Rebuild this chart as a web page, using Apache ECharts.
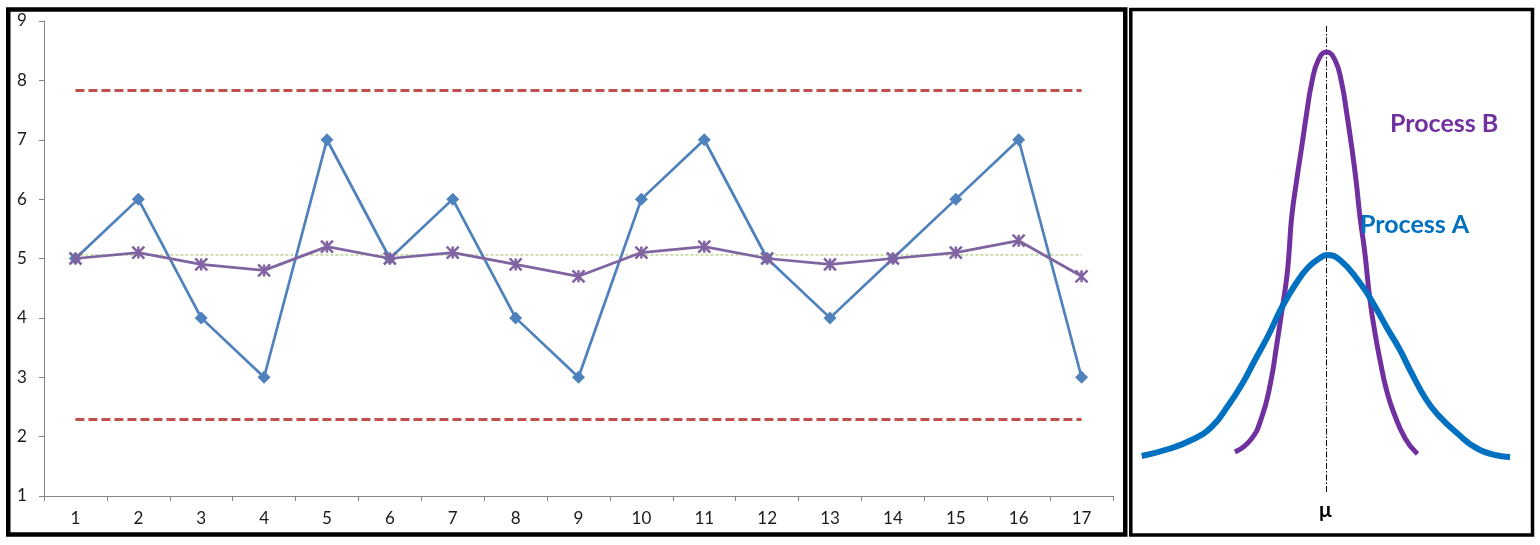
<!DOCTYPE html>
<html>
<head>
<meta charset="utf-8">
<script src="https://cdn.jsdelivr.net/npm/echarts@6/dist/echarts.min.js"></script>
<style>
html,body{margin:0;padding:0;background:#fff;}
#chart{width:1540px;height:545px;}
</style>
</head>
<body>
<div id="chart"></div>
<script>
// ---- Left panel: control chart data ----
const categories = ['1','2','3','4','5','6','7','8','9','10','11','12','13','14','15','16','17'];
const processA = [5, 6, 4, 3, 7, 5, 6, 4, 3, 6, 7, 5, 4, 5, 6, 7, 3];
const processB = [5, 5.1, 4.9, 4.8, 5.2, 5, 5.1, 4.9, 4.7, 5.1, 5.2, 5, 4.9, 5, 5.1, 5.3, 4.7];
const upperLimit = [7.83, 7.83, 7.83, 7.83, 7.83, 7.83, 7.83, 7.83, 7.83, 7.83, 7.83, 7.83, 7.83, 7.83, 7.83, 7.83, 7.83];
const lowerLimit = [2.29, 2.29, 2.29, 2.29, 2.29, 2.29, 2.29, 2.29, 2.29, 2.29, 2.29, 2.29, 2.29, 2.29, 2.29, 2.29, 2.29];
const centreLine = [5.06, 5.06, 5.06, 5.06, 5.06, 5.06, 5.06, 5.06, 5.06, 5.06, 5.06, 5.06, 5.06, 5.06, 5.06, 5.06, 5.06];
const yMin = 1, yMax = 9, yStep = 1;

// ---- Right panel: distribution curves (offset from mu, relative height) ----
const curveA = [[-184.8,44],[-158,51],[-135,60],[-115,73],[-98,95],[-85,115],[-71.5,140],[-58,165],[-45,192],[-31.5,215],[-18,233],[-5,243],[0,245],
                [13.5,240],[33.5,217],[46.5,197],[60,173],[73.5,150],[83.5,130],[100,100],[113.5,83],[127,70],[153.5,50],[183.5,43]];
const curveB = [[-91.5,48],[-76,60],[-65,82],[-56,117],[-49.8,155],[-44.8,188],[-39.8,222],[-37.5,247],[-34.8,283],[-29.8,320],[-24.8,353],[-19.8,387],[-14.8,417],[-8.2,440],[0,448],
                [8.5,440],[15.2,417],[20.2,387],[25.2,353],[29.5,320],[33.5,283],[38,250],[43.5,200],[48.5,167],[53.5,140],[60,110],[67,88],[79,61],[91,46]];
const muLine = [[0,8],[0,475]];
const labelA = 'Process A';
const labelB = 'Process B';
const labelMu = 'μ';

const FONT = 'Lato, "Open Sans", sans-serif';
const chart = echarts.init(document.getElementById('chart'), null, {renderer:'canvas'});

const option = {
  animation: false,
  backgroundColor: '#ffffff',
  grid: [
    {left: 44, right: 427, top: 21, bottom: 49, containLabel: false, outerBoundsMode: 'none'},
    {left: 1132, width: 400, top: 20, height: 480, outerBoundsMode: 'none'}
  ],
  xAxis: [
    {
      type: 'category', gridIndex: 0, data: categories, boundaryGap: true,
      axisLine: {show: true, lineStyle: {color: '#868686', width: 1}},
      axisTick: {show: true, length: 5, lineStyle: {color: '#868686'}},
      axisLabel: {color: '#1a1a1a', fontSize: 17, fontFamily: FONT, margin: 14},
      splitLine: {show: false}
    },
    {type: 'value', gridIndex: 1, min: -194.5, max: 205.5, show: false}
  ],
  yAxis: [
    {
      type: 'value', gridIndex: 0, min: yMin, max: yMax, interval: yStep,
      axisLine: {show: true, lineStyle: {color: '#868686', width: 1}},
      axisTick: {show: true, length: 5, lineStyle: {color: '#868686'}},
      axisLabel: {color: '#1a1a1a', fontSize: 17, fontFamily: FONT, margin: 27, align: 'left'},
      splitLine: {show: false}
    },
    {type: 'value', gridIndex: 1, min: 0, max: 480, show: false}
  ],
  series: [
    {
      name: 'Centre', type: 'line', xAxisIndex: 0, yAxisIndex: 0, data: centreLine,
      symbol: 'none', lineStyle: {color: '#9BBB59', width: 1, type: [3, 2]}, z: 1
    },
    {
      name: 'UCL', type: 'line', xAxisIndex: 0, yAxisIndex: 0, data: upperLimit,
      symbol: 'none', lineStyle: {color: '#C0504D', width: 3, type: [9, 4]}, z: 2
    },
    {
      name: 'LCL', type: 'line', xAxisIndex: 0, yAxisIndex: 0, data: lowerLimit,
      symbol: 'none', lineStyle: {color: '#C0504D', width: 3, type: [9, 4]}, z: 2
    },
    {
      name: labelA, type: 'line', xAxisIndex: 0, yAxisIndex: 0, data: processA,
      symbol: 'diamond', symbolSize: 13,
      lineStyle: {color: '#4F81BD', width: 2.75},
      itemStyle: {color: '#4F81BD'}, z: 3
    },
    {
      name: labelB, type: 'line', xAxisIndex: 0, yAxisIndex: 0, data: processB,
      symbol: 'path://M0,0L10,10M10,0L0,10M5,0L5,10', symbolSize: 12,
      lineStyle: {color: '#8064A2', width: 2.75},
      itemStyle: {color: '#8064A2', borderColor: '#8064A2', borderWidth: 2.5}, z: 4
    },
    {
      name: 'mu', type: 'line', xAxisIndex: 1, yAxisIndex: 1, data: muLine,
      symbol: 'none', lineStyle: {color: '#000', width: 1, type: [6, 2, 1.5, 2]}, z: 1
    },
    {
      name: labelA + ' curve', type: 'line', xAxisIndex: 1, yAxisIndex: 1, data: curveA,
      symbol: 'none', smooth: 0.5, lineStyle: {color: '#0070C0', width: 6}, z: 3
    },
    {
      name: labelB + ' curve', type: 'line', xAxisIndex: 1, yAxisIndex: 1, data: curveB,
      symbol: 'none', smooth: 0.5, lineStyle: {color: '#7030A0', width: 5}, z: 2
    }
  ],
  graphic: [
    {type: 'rect', shape: {x: 8.25, y: 9.5, width: 1117, height: 525}, style: {fill: 'none', stroke: '#000', lineWidth: 4.5}, z: 100},
    {type: 'rect', shape: {x: 1130.8, y: 9.6, width: 401.7, height: 525.4}, style: {fill: 'none', stroke: '#000', lineWidth: 3.5}, z: 100},
    {type: 'text', left: 1390, top: 111, style: {text: labelB, fill: '#7030A0', font: 'bold 25px ' + FONT}, z: 100},
    {type: 'text', left: 1360, top: 212, style: {text: labelA, fill: '#0070C0', font: 'bold 25px ' + FONT}, z: 100},
    {type: 'text', left: 1319, top: 500, style: {text: labelMu, fill: '#000', font: 'bold 21px ' + FONT}, z: 100}
  ]
};
chart.setOption(option);
</script>
</body>
</html>
